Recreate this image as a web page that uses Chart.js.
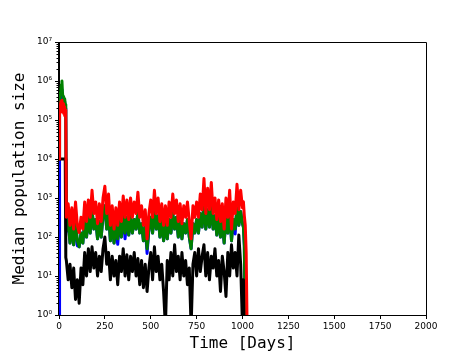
<!DOCTYPE html>
<html>
<head>
<meta charset="utf-8">
<script src="https://cdn.jsdelivr.net/npm/chart.js@4.4.0/dist/chart.umd.min.js"></script>
<style>
  html, body { margin: 0; padding: 0; background: #fff; }
  canvas { display: block; }
</style>
</head>
<body>
<canvas id="c" width="474" height="355"></canvas>
<script>
// ---- data ----
const days = [
  0, 2, 4, 7, 10, 13, 16, 19, 22, 25, 28, 31, 34, 37, 40,
  50, 60, 70, 80, 90, 100, 110, 120, 130, 140,
  150, 160, 170, 180, 190, 200, 210, 220, 230, 240,
  250, 260, 270, 280, 290, 300, 310, 320, 330, 340,
  350, 360, 370, 380, 390, 400, 410, 420, 430, 440,
  450, 460, 470, 480, 490, 500, 510, 520, 530, 540,
  550, 560, 570, 580, 590, 600, 610, 620, 630, 640,
  650, 660, 670, 680, 690, 700, 710, 720, 730, 740,
  750, 760, 770, 780, 790, 800, 810, 820, 830, 840,
  850, 860, 870, 880, 890, 900, 910, 920, 930, 940,
  950, 960, 970, 980, 990, 1000,
  1005, 1010, 1015, 1020, 1025
];

const redSeries = [
  1e4, 1.2e5, 2.5e5, 1.6e5, 3e5, 2e5, 3.2e5, 1.7e5, 2.6e5, 1.5e5, 2.2e5, 1.3e5, 1.8e5, 1.2e5, 320,
  710, 200, 560, 160, 790, 200, 130, 320, 160, 790,
  250, 890, 320, 1580, 400, 790, 220, 710, 250, 1000,
  2000, 400, 1260, 200, 630, 160, 560, 200, 790, 250,
  1120, 320, 890, 280, 1000, 320, 790, 400, 1410, 320,
  630, 200, 500, 90, 400, 890, 320, 1580, 400, 1000,
  250, 710, 200, 630, 200, 790, 320, 1260, 400, 890,
  250, 710, 220, 630, 320, 790, 250, 90, 630, 320,
  790, 320, 1260, 500, 3160, 400, 1780, 500, 2510, 400,
  1000, 280, 890, 250, 710, 160, 1000, 320, 1580, 160,
  790, 400, 2240, 500, 1580, 560,
  800, 350, 200, 40, 0.5
];

const greenSeries = [
  1e4, 2e5, 4e5, 5e5, 6e5, 8e5, 1e6, 5e5, 3.5e5, 4e5, 3e5, 3.5e5, 2.5e5, 2e5, 150,
  250, 70, 200, 63, 280, 80, 56, 126, 70, 280,
  100, 320, 126, 500, 160, 280, 90, 250, 100, 350,
  630, 160, 400, 80, 220, 70, 200, 90, 280, 100,
  400, 126, 320, 112, 350, 126, 280, 160, 450, 126,
  220, 80, 180, 50, 160, 320, 126, 500, 160, 350,
  100, 250, 80, 220, 90, 280, 126, 400, 160, 320,
  100, 250, 90, 220, 126, 280, 100, 50, 220, 126,
  280, 126, 400, 180, 790, 160, 500, 180, 630, 160,
  350, 112, 320, 100, 250, 70, 320, 126, 500, 80,
  280, 160, 630, 200, 450, 220,
  180, 60, 0.5, null, null
];

const blueSeries = [
  1, 1e4, 1.5e5, 3e5, 4e5, 5e5, 6e5, 4e5, 3e5, 3e5, 2.5e5, 3e5, 2e5, 1.5e5, 140,
  250, 70, 200, 63, 280, 60, 56, 126, 70, 280,
  100, 320, 126, 500, 160, 280, 90, 250, 100, 350,
  630, 160, 400, 80, 220, 70, 200, 65, 280, 100,
  400, 90, 320, 112, 350, 126, 280, 160, 450, 126,
  220, 80, 180, 38, 160, 320, 126, 500, 160, 350,
  100, 250, 80, 220, 90, 280, 126, 400, 160, 320,
  100, 250, 90, 220, 126, 280, 100, 50, 220, 126,
  280, 126, 400, 180, 790, 160, 500, 180, 630, 160,
  350, 112, 320, 100, 250, 70, 320, 126, 500, 80,
  280, 120, 630, 200, 450, 220,
  180, 60, 0.5, null, null
];

const blackSeries = [
  1e4, 1e4, 1e4, 1e4, 1e4, 1e4, 1e4, 1e4, 1e4, 1e4, 1e4, 1e4, 1e4, 30, 25,
  8, 20, 5, 16, 2.5, 8, 2, 16, 6, 40,
  10, 50, 13, 56, 16, 40, 10, 32, 13, 50,
  100, 20, 40, 8, 32, 10, 25, 6, 32, 13,
  50, 10, 35, 8, 32, 13, 40, 10, 28, 6,
  25, 5, 20, 4, 16, 40, 8, 56, 13, 32,
  8, 20, 4, 0.5, 25, 8, 40, 10, 63, 13,
  32, 8, 40, 10, 25, 6, 16, 0.5, 20, 40,
  10, 50, 13, 32, 63, 10, 40, 8, 32, 16,
  50, 10, 25, 4, 32, 13, 3, 40, 10, 63,
  16, 40, 10, 112, 20, 0.5,
  8, 0.5, null, null, null
];

const xTicks = [0, 250, 500, 750, 1000, 1250, 1500, 1750, 2000];
const yTickExponents = [0, 1, 2, 3, 4, 5, 6, 7];

// ---- chart ----
const SUP = ['\u2070','\u00B9','\u00B2','\u00B3','\u2074','\u2075','\u2076','\u2077','\u2078','\u2079'];
const toPts = arr => days.map((d, i) => ({ x: d, y: arr[i] }));

const framePlugin = {
  id: 'frame',
  afterDatasetsDraw(chart) {
    const { ctx, chartArea: a } = chart;
    const ys = chart.scales.y;
    ctx.save();
    ctx.strokeStyle = '#000';
    ctx.lineWidth = 1;
    ctx.beginPath();
    ctx.rect(Math.round(a.left) - 0.5, Math.round(a.top) + 0.5,
             Math.round(a.right - a.left) + 1, Math.round(a.bottom - a.top));
    ctx.stroke();
    // minor log ticks
    ctx.beginPath();
    for (let e = 0; e < 7; e++) {
      for (let m = 2; m <= 9; m++) {
        const y = Math.round(ys.getPixelForValue(m * Math.pow(10, e))) + 0.5;
        ctx.moveTo(a.left - 2.5, y);
        ctx.lineTo(a.left, y);
      }
    }
    ctx.stroke();
    ctx.restore();
  }
};

const ds = (label, arr, color) => ({
  label, data: toPts(arr), borderColor: color, backgroundColor: color,
  borderWidth: 3, pointRadius: 0, tension: 0, fill: false,
  borderJoinStyle: 'round', borderCapStyle: 'butt'
});

new Chart(document.getElementById('c'), {
  type: 'line',
  data: {
    datasets: [
      ds('red', redSeries, '#ff0000'),
      ds('black', blackSeries, '#000000'),
      ds('green', greenSeries, '#008000'),
      ds('blue', blueSeries, '#0000ff')
    ]
  },
  options: {
    responsive: false,
    animation: false,
    devicePixelRatio: 1,
    layout: { padding: { left: 0, top: 42, right: 48, bottom: 0 } },
    plugins: { legend: { display: false }, tooltip: { enabled: false } },
    scales: {
      x: {
        type: 'linear', min: 0, max: 2000,
        afterBuildTicks: s => { s.ticks = xTicks.map(v => ({ value: v })); },
        afterFit: s => { s.height = 40; },
        grid: { drawOnChartArea: false, drawTicks: true, tickLength: 4, color: '#000', tickColor: '#000' },
        border: { display: true, color: '#000', width: 1 },
        ticks: { color: '#000', font: { family: 'DejaVu Sans', size: 9 }, padding: 2, maxRotation: 0,
                 callback: v => String(v) },
        title: { display: true, text: 'Time [Days]', color: '#000',
                 font: { family: 'DejaVu Sans Mono', size: 16 }, padding: { top: 0, bottom: 2 } }
      },
      y: {
        type: 'logarithmic', min: 1, max: 1e7,
        afterBuildTicks: s => { s.ticks = yTickExponents.map(e => ({ value: Math.pow(10, e), major: true })); },
        afterFit: s => { s.width = 59; },
        grid: { drawOnChartArea: false, drawTicks: true, tickLength: 4, color: '#000', tickColor: '#000' },
        border: { display: true, color: '#000', width: 1 },
        ticks: {
          color: '#000', font: { family: 'DejaVu Sans', size: 9 }, padding: 3,
          callback: v => '10' + SUP[Math.round(Math.log10(v))]
        },
        title: { display: true, text: 'Median population size', color: '#000',
                 font: { family: 'DejaVu Sans Mono', size: 16 }, padding: { top: 10, bottom: 0 } }
      }
    }
  },
  plugins: [framePlugin]
});
</script>
</body>
</html>
